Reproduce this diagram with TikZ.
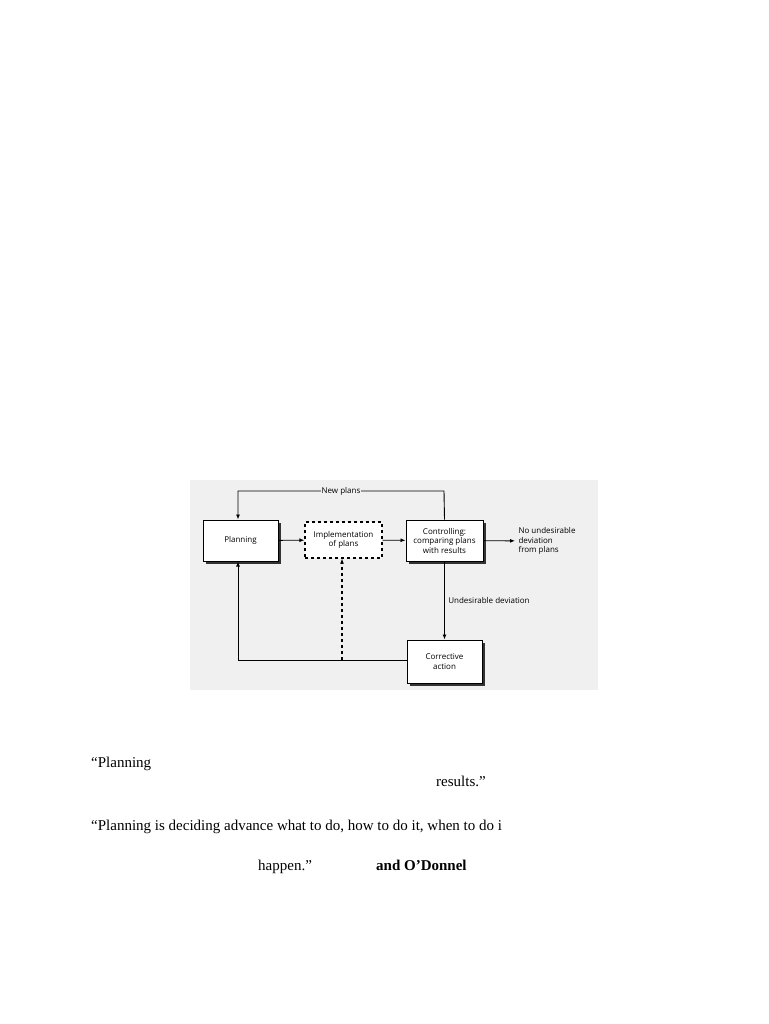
\documentclass[tikz,border=0pt]{standalone}
\usepackage{fontspec}
\setmainfont{Liberation Serif}
\newfontfamily\diag{Open Sans}
\usetikzlibrary{arrows.meta}
\begin{document}
\begin{tikzpicture}[x=1pt,y=-1pt,
  box/.style={draw,line width=1pt,fill=white,align=center,font=\diag\fontsize{8}{9.5}\selectfont,inner sep=0pt},
  shadowed/.style={box},
  conn/.style={line width=0.9pt,-{Latex[length=5pt,width=4pt]}},
  lbl/.style={font=\diag\fontsize{8}{9.5}\selectfont,align=left},
  txt/.style={font=\fontsize{15}{18}\selectfont,anchor=base west,inner sep=0pt}]
\useasboundingbox (0,0) rectangle (768,1024);
\fill[white] (0,0) rectangle (768,1024);
\fill[gray!12] (190,480) rectangle (598,690);
% shadows
\foreach \a/\b/\c/\d in {203/520/278/561,406/520/483/561,407/640/482/683}
  \fill[black!80] (\a+3,\b+3) rectangle (\c+3,\d+3);
\node[box,minimum width=75pt,minimum height=41pt] (plan) at (240.5,540.5) {Planning};
\node[box,dashed,line width=1.2pt,minimum width=77pt,minimum height=36pt] (impl) at (343.5,540) {Implementation\\of plans};
\node[box,minimum width=77pt,minimum height=41pt] (ctrl) at (444.5,540.5) {Controlling:\\comparing plans\\with results};
\node[box,minimum width=75pt,minimum height=43pt] (corr) at (444.5,661.5) {Corrective\\action};
\node[lbl,anchor=west] (nod) at (515,541) {No undesirable\\deviation\\from plans};
\coordinate (tl) at (238,491);
\coordinate (tr) at (444,491);
\coordinate (bl) at (238,660);
\coordinate (dm) at (342,660);
\draw[conn] (ctrl.north) -- (tr) -- node[fill=gray!12,lbl,inner sep=1pt]{New plans} (tl) -- (plan.north -| tl);
\draw[conn] (plan) -- (impl);
\draw[conn] (impl) -- (ctrl);
\draw[conn] (ctrl) -- (nod);
\draw[conn] (ctrl.south) -- node[lbl,right,pos=0.5]{Undesirable deviation} (corr.north);
\draw[conn] (corr.west |- bl) -- (bl) -- (plan.south -| bl);
\draw[conn,dashed,line width=1.3pt] (dm) -- (impl.south -| dm);
\node[txt] (t1) at (91,767) {“Planning};
\node[txt] (t2) at (436,786) {results.”};
\node[txt] (t3) at (91,830) {“Planning is deciding advance what to do, how to do it, when to do i};
\node[txt] (t4) at (258,870) {happen.”};
\node[txt,font=\fontsize{15}{18}\selectfont\bfseries] (t5) at (376,870) {and O’Donnel};
\end{tikzpicture}
\end{document}
